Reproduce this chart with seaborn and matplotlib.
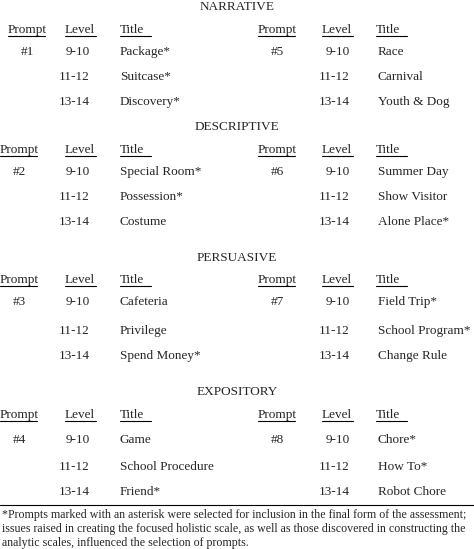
import matplotlib
matplotlib.use("Agg")
import matplotlib.pyplot as plt
import seaborn as sns

sns.set_theme(style="white")
plt.rcParams['font.family'] = ['Liberation Serif', 'DejaVu Serif']

sections = ["NARRATIVE", "DESCRIPTIVE", "PERSUASIVE", "EXPOSITORY"]
left_prompts = ["#1", "#2", "#3", "#4"]
right_prompts = ["#5", "#6", "#7", "#8"]
levels = ["9-10", "11-12", "13-14"]
left_titles = [["Package*", "Suitcase*", "Discovery*"],
               ["Special Room*", "Possession*", "Costume"],
               ["Cafeteria", "Privilege", "Spend Money*"],
               ["Game", "School Procedure", "Friend*"]]
right_titles = [["Race", "Carnival", "Youth & Dog"],
                ["Summer Day", "Show Visitor", "Alone Place*"],
                ["Field Trip*", "School Program*", "Change Rule"],
                ["Chore*", "How To*", "Robot Chore"]]
footnote = ["*Prompts marked with an asterisk were selected for inclusion in the final form of the assessment;",
            "issues raised in creating the focused holistic scale, as well as those discovered in constructing the",
            "analytic scales, influenced the selection of prompts."]

sec_y = [7, 127, 258, 392]
hdr_y = [30, 150, 280, 415]
row_y = [[52, 77, 102], [172, 197, 222], [302, 331, 356], [440, 467, 492]]
prompt_x = [8, 0, 0, 0]

fig = plt.figure(figsize=(4.74, 5.49), dpi=100)
ax = fig.add_axes([0, 0, 1, 1])
ax.set_xlim(0, 474)
ax.set_ylim(549, 0)
ax.axis("off")
fs = 9.5

def under(x, y, label):
    t = ax.text(x, y, label, fontsize=fs, va="center", ha="left")
    w = len(label) * 6.2
    ax.plot([x, x + w], [y + 6, y + 6], color="black", lw=0.8)

for i, s in enumerate(sections):
    ax.text(237, sec_y[i], s, fontsize=fs, ha="center", va="center")
    px = prompt_x[i]
    under(px, hdr_y[i], "Prompt")
    under(65, hdr_y[i], "Level")
    under(120, hdr_y[i], "Title")
    under(258, hdr_y[i], "Prompt")
    under(322, hdr_y[i], "Level")
    under(376, hdr_y[i], "Title")
    ax.text(px + 19, row_y[i][0], left_prompts[i], fontsize=fs, ha="center", va="center")
    ax.text(277, row_y[i][0], right_prompts[i], fontsize=fs, ha="center", va="center")
    for j, lv in enumerate(levels):
        y = row_y[i][j]
        ax.text(90, y, lv, fontsize=fs, ha="right", va="center")
        ax.text(120, y, left_titles[i][j], fontsize=fs, ha="left", va="center")
        ax.text(350, y, lv, fontsize=fs, ha="right", va="center")
        ax.text(378, y, right_titles[i][j], fontsize=fs, ha="left", va="center")

ax.plot([0, 474], [505, 505], color="black", lw=0.8)
for k, line in enumerate(footnote):
    ax.text(2, 515 + k * 14, line, fontsize=8.6, ha="left", va="center")

fig.savefig("out.png", dpi=100)
